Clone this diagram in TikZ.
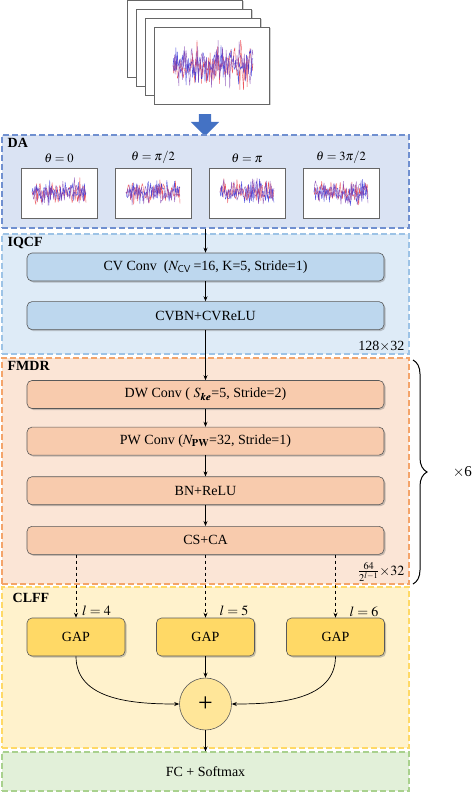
\documentclass[tikz,border=0pt]{standalone}
\usepackage{mathptmx}
\usepackage{amsmath, amssymb, bm}
\usepackage{fontspec}
\setmainfont{Liberation Serif}
\usepackage{xcolor}
\usepackage{tikz}
\usetikzlibrary{arrows.meta, positioning, shadows, shapes.arrows, decorations.pathreplacing}

\definecolor{daFill}{HTML}{DAE3F3}
\definecolor{daLine}{HTML}{7090D0}
\definecolor{iqFill}{HTML}{DEEBF7}
\definecolor{iqLine}{HTML}{9DC3E6}
\definecolor{iqBox}{HTML}{BDD7EE}
\definecolor{fmFill}{HTML}{FBE5D6}
\definecolor{fmLine}{HTML}{F4A46A}
\definecolor{fmBox}{HTML}{F8CBAD}
\definecolor{clFill}{HTML}{FFF2CC}
\definecolor{clLine}{HTML}{FFD966}
\definecolor{gapBox}{HTML}{FFD966}
\definecolor{sumFill}{HTML}{FFE699}
\definecolor{fcFill}{HTML}{E2F0D9}
\definecolor{fcLine}{HTML}{A9D18E}
\definecolor{feedBlue}{HTML}{4472C4}
\definecolor{sigred}{HTML}{E8303A}
\definecolor{sigblue}{HTML}{2A2AD8}
\definecolor{sigpurple}{HTML}{8040B0}

% noisy IQ trace: centre x, centre y, half width, amplitude, samples
\newcommand{\sigtrace}[5]{%
  \foreach \col in {sigred,sigblue,sigpurple}{%
    \draw[\col, line width=0.4pt, line join=round, opacity=.8] ({#1-#3},#2)
      \foreach \k in {1,...,#5}{ -- ({#1-#3+2*#3*\k/#5},{#2+#4*rand*(0.25+0.75*rnd)}) };
  }%
}

\begin{document}
\begin{tikzpicture}[
  x=1pt, y=-1pt,
  font=\fontsize{14}{16}\selectfont,
  panel/.style={draw, dash pattern=on 6pt off 3pt, line width=1.1pt, minimum width=407pt, inner sep=0pt},
  tag/.style={font=\fontsize{14}{16}\selectfont\bfseries, inner sep=1pt},
  box/.style={draw=black!65, line width=0.6pt, rounded corners=5pt, minimum width=357pt, minimum height=28pt, align=center,
    drop shadow={shadow xshift=1.5pt, shadow yshift=-1.5pt, opacity=.35, fill=black!60}},
  gapbox/.style={box, fill=gapBox, minimum width=98pt, minimum height=38pt},
  frame/.style={draw=black!60, line width=0.6pt, fill=white,
    drop shadow={shadow xshift=1pt, shadow yshift=-1pt, opacity=.3, fill=black!60}},
  arrow/.style={-{Stealth[length=5pt, width=4pt]}, line width=0.7pt},
  dasharrow/.style={arrow, dashed},
]
\useasboundingbox (0,0) rectangle (474,795);
\pgfmathsetseed{11}

% Input stack of IQ samples
\foreach \i in {0,...,3}
  \node[frame, minimum width=115pt, minimum height=77pt] (pg\i) at (185+9*\i, 38.5+9*\i) {};
\sigtrace{213}{65}{40}{26}{110}

\node[single arrow, fill=feedBlue, rotate=-90, inner sep=6pt, minimum height=22pt,
  single arrow head extend=8pt] (feed) at (205,122) {};

% Panels
\node[panel, fill=daFill, draw=daLine, minimum height=93pt] (da) at (205.5,181.5) {};
\node[panel, fill=iqFill, draw=iqLine, minimum height=120pt] (iqcf) at (205.5,294) {};
\node[panel, fill=fmFill, draw=fmLine, minimum height=226pt] (fmdr) at (205.5,471) {};
\node[panel, fill=clFill, draw=clLine, minimum height=161pt] (clff) at (205.5,667.5) {};
\node[panel, fill=fcFill, draw=fcLine, minimum height=39pt] (fc) at (205.5,771.5) {FC + Softmax};

\node[tag, below right=3pt and 5pt of da.north west] {DA};
\node[tag, below right=3pt and 5pt of iqcf.north west] {IQCF};
\node[tag, below right=3pt and 5pt of fmdr.north west] {FMDR};
\node[tag, below right=6pt and 10pt of clff.north west] {CLFF};

% Rotated copies
\foreach \ang [count=\j] in {0, \pi/2, \pi, 3\pi/2}{
  \node[frame, minimum width=76pt, minimum height=50pt] (rot\j) at (59+94*\j-94, 193) {};
  \node[font=\fontsize{12.5}{14}\selectfont, above=1pt of rot\j] {\boldmath$\theta=\ang$};
}
\foreach \j in {1,...,4}{
  \sigtrace{59+94*\j-94}{192}{27}{15}{70}
}

% IQCF
\node[box, fill=iqBox] (cv) at (205.5,267) {CV Conv\ \ ($N_{\mathsf{CV}}$\,=16, K=5, Stride=1)};
\node[box, fill=iqBox, below=20pt of cv] (cvbn) {CVBN+CVReLU};
\node[above left=2pt and 4pt of iqcf.south east, inner sep=1pt] {128$\times$32};

% FMDR
\node[box, fill=fmBox] (dw) at (205.5,394.5) {DW Conv ( $S_{\bm{ke}}$=5, Stride=2)};
\node[box, fill=fmBox, below=18pt of dw] (pw) {PW Conv ($N_{\mathbf{PW}}$=32, Stride=1)};
\node[box, fill=fmBox, below=21pt of pw] (bn) {BN+ReLU};
\node[box, fill=fmBox, below=21pt of bn] (csca) {CS+CA};
\node[above left=2pt and 4pt of fmdr.south east, inner sep=1pt]
  {$\frac{64}{2^{l-1}}{\times}32$};

% CLFF
\node[gapbox] (gap1) at (76,637) {GAP};
\node[gapbox] (gap2) at (205.5,637) {GAP};
\node[gapbox] (gap3) at (335.5,637) {GAP};
\node[draw=black!65, line width=0.6pt, circle, fill=sumFill, minimum size=52pt, inner sep=0pt,
  font=\fontsize{26}{26}\selectfont] (sum) at (205.5,704) {+};

\node[above right=1pt and 5pt of gap1.north, inner sep=1pt] {$l=4$};
\node[above right=1pt and 13pt of gap2.north, inner sep=1pt] {$l=5$};
\node[above right=0pt and 13pt of gap3.north, inner sep=1pt] {$l=6$};

% Arrows
\draw[arrow] (da.south) -- (cv.north);
\draw[arrow] (cv) -- (cvbn);
\draw[arrow] (cvbn) -- (dw);
\draw[arrow] (dw) -- (pw);
\draw[arrow] (pw) -- (bn);
\draw[arrow] (bn) -- (csca);
\foreach \g in {gap1, gap2, gap3}
  \draw[dasharrow] (csca.south -| \g.north) -- (\g.north);
\draw[arrow] (gap1.south) to[out=-90, in=180] (sum.west);
\draw[arrow] (gap3.south) to[out=-90, in=0] (sum.east);
\draw[arrow] (gap2) -- (sum);
\draw[arrow] (sum) -- (fc.north);

% Repetition brace
\coordinate (bt) at (413,360);
\coordinate (bb) at (413,584);
\draw[decorate, decoration={brace, amplitude=14pt}, line width=1pt] (bt) -- (bb)
  node[midway, right=36pt, font=\fontsize{15}{17}\selectfont] {$\times$6};

\end{tikzpicture}
\end{document}
